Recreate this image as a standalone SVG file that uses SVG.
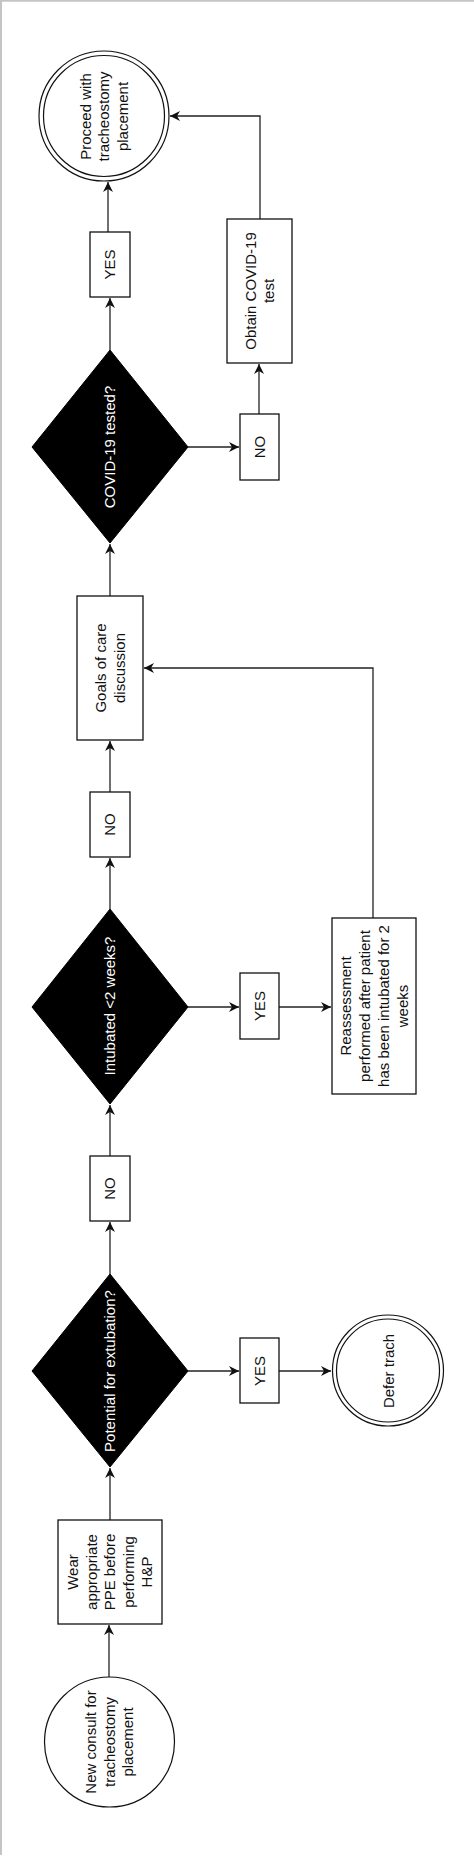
<svg xmlns="http://www.w3.org/2000/svg" width="474" height="1857" viewBox="0 0 474 1857">
<style>
.box{fill:#fff;stroke:#111;stroke-width:1.3}
.dia{fill:#000;stroke:#000;stroke-width:1}
.ring{fill:none;stroke:#111;stroke-width:1.2}
.t{font-family:"Liberation Sans",Arial,sans-serif;font-size:15px;fill:#111;text-anchor:middle}
.w{fill:#fff}
.c{fill:none;stroke:#222;stroke-width:1.3}
</style>
<defs>
<marker id="ah" markerUnits="userSpaceOnUse" markerWidth="11" markerHeight="11" refX="10" refY="5.5" orient="auto">
<path d="M0,0.5 L10,5.5 L0,10.5 L3,5.5 Z" fill="#111"/>
</marker>
</defs>
<rect x="0" y="0" width="474" height="1857" fill="#fff"/>
<line x1="0" y1="0.8" x2="474" y2="0.8" stroke="#c4c4c4" stroke-width="1.8"/>
<line x1="1" y1="0" x2="1" y2="1855" stroke="#c4c4c4" stroke-width="2"/>

<g id="connectors">
<line class="c" x1="109" y1="1677" x2="109" y2="1625" marker-end="url(#ah)"/>
<line class="c" x1="110" y1="1520" x2="110" y2="1468" marker-end="url(#ah)"/>
<line class="c" x1="188" y1="1371" x2="239" y2="1371" marker-end="url(#ah)"/>
<line class="c" x1="279" y1="1371" x2="331" y2="1371" marker-end="url(#ah)"/>
<line class="c" x1="110" y1="1274" x2="110" y2="1222" marker-end="url(#ah)"/>
<line class="c" x1="110" y1="1156" x2="110" y2="1105" marker-end="url(#ah)"/>
<line class="c" x1="188" y1="1007" x2="239" y2="1007" marker-end="url(#ah)"/>
<line class="c" x1="279" y1="1007" x2="331" y2="1007" marker-end="url(#ah)"/>
<line class="c" x1="110" y1="909" x2="110" y2="858" marker-end="url(#ah)"/>
<line class="c" x1="110" y1="792" x2="110" y2="741" marker-end="url(#ah)"/>
<polyline class="c" points="373,918 373,668 144,668" marker-end="url(#ah)"/>
<line class="c" x1="110" y1="596" x2="110" y2="544" marker-end="url(#ah)"/>
<line class="c" x1="188" y1="447" x2="239" y2="447" marker-end="url(#ah)"/>
<line class="c" x1="259" y1="414" x2="259" y2="364" marker-end="url(#ah)"/>
<line class="c" x1="110" y1="350" x2="110" y2="298" marker-end="url(#ah)"/>
<line class="c" x1="108" y1="232" x2="108" y2="182" marker-end="url(#ah)"/>
<polyline class="c" points="260,219 260,116 170,116" marker-end="url(#ah)"/>
</g>

<g id="start">
<circle class="ring" cx="109.5" cy="1742" r="65"/>
<text class="t" transform="translate(109.5,1742) rotate(-90)"><tspan x="0" y="-13.2">New consult for</tspan><tspan x="0" y="5.3">tracheostomy</tspan><tspan x="0" y="23.8">placement</tspan></text>
</g>

<g id="wear">
<rect class="box" x="58" y="1520" width="104" height="104"/>
<text class="t" transform="translate(110,1572) rotate(-90)"><tspan x="0" y="-31.7">Wear</tspan><tspan x="0" y="-13.2">appropriate</tspan><tspan x="0" y="5.3">PPE before</tspan><tspan x="0" y="23.8">performing</tspan><tspan x="0" y="42.3">H&amp;P</tspan></text>
</g>

<g id="potential">
<polygon class="dia" points="110,1274 188,1371 110,1467 32,1371"/>
<text class="t w" transform="translate(110,1371) rotate(-90)" y="5.3">Potential for extubation?</text>
</g>

<g id="yes1">
<rect class="box" x="240" y="1338" width="39" height="65"/>
<text class="t" transform="translate(259.5,1371) rotate(-90)" y="5.3">YES</text>
</g>

<g id="defer">
<circle class="ring" cx="388" cy="1370.5" r="55.5"/>
<circle class="ring" cx="388" cy="1370.5" r="51.5"/>
<text class="t" transform="translate(389,1371) rotate(-90)" y="5.3">Defer trach</text>
</g>

<g id="no1">
<rect class="box" x="90" y="1156" width="40" height="65"/>
<text class="t" transform="translate(110,1188.5) rotate(-90)" y="5.3">NO</text>
</g>

<g id="intubated">
<polygon class="dia" points="110,909 188,1007 110,1104 32,1007"/>
<text class="t w" transform="translate(110,1006) rotate(-90)" y="5.3">Intubated &lt;2 weeks?</text>
</g>

<g id="yes2">
<rect class="box" x="240" y="973" width="39" height="66"/>
<text class="t" transform="translate(259.5,1006) rotate(-90)" y="5.3">YES</text>
</g>

<g id="reassess">
<rect class="box" x="332" y="918" width="84" height="176"/>
<text class="t" transform="translate(374,1006) rotate(-90)"><tspan x="0" y="-22.9">Reassessment</tspan><tspan x="0" y="-4.1">performed after patient</tspan><tspan x="0" y="14.7">has been intubated for 2</tspan><tspan x="0" y="33.5">weeks</tspan></text>
</g>

<g id="no2">
<rect class="box" x="90" y="792" width="40" height="65"/>
<text class="t" transform="translate(110,824.5) rotate(-90)" y="5.3">NO</text>
</g>

<g id="goals">
<rect class="box" x="77" y="596" width="66" height="144"/>
<text class="t" transform="translate(110,668) rotate(-90)"><tspan x="0" y="-4">Goals of care</tspan><tspan x="0" y="14.5">discussion</tspan></text>
</g>

<g id="covid">
<polygon class="dia" points="110,350 188,447 110,543 32,447"/>
<text class="t w" transform="translate(110,447) rotate(-90)" y="5.3">COVID-19 tested?</text>
</g>

<g id="no3">
<rect class="box" x="240" y="414" width="39" height="66"/>
<text class="t" transform="translate(259.5,447) rotate(-90)" y="5.3">NO</text>
</g>

<g id="obtain">
<rect class="box" x="227" y="219" width="65" height="144"/>
<text class="t" transform="translate(259.5,291) rotate(-90)"><tspan x="0" y="-4">Obtain COVID-19</tspan><tspan x="0" y="14.5">test</tspan></text>
</g>

<g id="yes3">
<rect class="box" x="90" y="232" width="40" height="65"/>
<text class="t" transform="translate(110,264.5) rotate(-90)" y="5.3">YES</text>
</g>

<g id="proceed">
<circle class="ring" cx="104" cy="116" r="65"/>
<circle class="ring" cx="104" cy="116" r="60.5"/>
<text class="t" transform="translate(104,116.5) rotate(-90)"><tspan x="0" y="-13.2">Proceed with</tspan><tspan x="0" y="5.3">tracheostomy</tspan><tspan x="0" y="23.8">placement</tspan></text>
</g>
</svg>
